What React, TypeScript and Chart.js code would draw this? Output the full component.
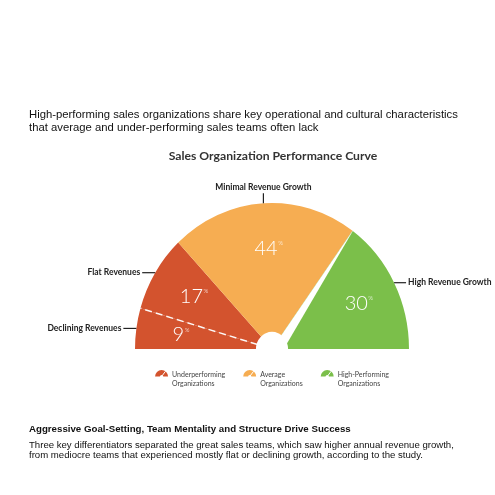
import { useEffect, useRef } from "react";
import { Chart, ArcElement, DoughnutController } from "chart.js";

Chart.register(ArcElement, DoughnutController);

const categories = ["Declining Revenues", "Flat Revenues", "Minimal Revenue Growth", "High Revenue Growth"];
const shares = [9, 17, 44, 30];
const segmentColors = ["#D3532E", "#D3532E", "#F6AD52", "#7BBF4A"];
const legendLabels = [
  ["Underperforming", "Organizations"],
  ["Average", "Organizations"],
  ["High-Performing", "Organizations"],
];
const legendColors = ["#D3532E", "#F6AD52", "#7BBF4A"];
const dashedAfterIndex = 0;
const needleAfterIndex = 2;

const SY = 1.066;

const gaugePlugin = {
  id: "gauge",
  beforeDatasetsDraw(chart: any) {
    const arc = chart.getDatasetMeta(0).data[0];
    const ctx = chart.ctx;
    ctx.save();
    ctx.translate(arc.x, arc.y);
    ctx.scale(1, SY);
    ctx.translate(-arc.x, -arc.y);
  },
  afterDatasetsDraw(chart: any) {
    const ctx: CanvasRenderingContext2D = chart.ctx;
    const arcs = chart.getDatasetMeta(0).data;
    const cx = arcs[0].x;
    const cy = arcs[0].y;
    const R = arcs[0].outerRadius;
    const r0 = arcs[0].innerRadius;

    // dashed divider
    const a = arcs[dashedAfterIndex].endAngle;
    ctx.beginPath();
    ctx.setLineDash([7, 4]);
    ctx.strokeStyle = "rgba(255,255,255,0.95)";
    ctx.lineWidth = 1.4;
    ctx.moveTo(cx + r0 * Math.cos(a), cy + r0 * Math.sin(a));
    ctx.lineTo(cx + R * Math.cos(a), cy + R * Math.sin(a));
    ctx.stroke();
    ctx.setLineDash([]);

    // needle
    const t = arcs[needleAfterIndex].endAngle;
    ctx.beginPath();
    ctx.fillStyle = "#ffffff";
    ctx.moveTo(cx, cy);
    ctx.lineTo(cx + (R + 4) * Math.cos(t), cy + (R + 4) * Math.sin(t));
    ctx.lineTo(cx - 10 * Math.sin(t), cy + 10 * Math.cos(t));
    ctx.closePath();
    ctx.fill();
    ctx.beginPath();
    ctx.arc(cx, cy, r0 + 1, 0, Math.PI * 2);
    ctx.fill();
    ctx.restore();

    const P = (ang: number, rad: number) => [cx + rad * Math.cos(ang), cy + SY * rad * Math.sin(ang)];

    // percentage labels
    arcs.forEach((el: any, i: number) => {
      const mid = (el.startAngle + el.endAngle) / 2;
      const [px, py] = P(mid, R * 0.69);
      ctx.fillStyle = "#ffffff";
      ctx.font = "300 20px Lato";
      ctx.textAlign = "center";
      ctx.textBaseline = "middle";
      const txt = String(shares[i]);
      ctx.fillText(txt, px, py);
      const w = ctx.measureText(txt).width;
      ctx.font = "300 6px Lato";
      ctx.textAlign = "left";
      ctx.fillText("%", px + w / 2 + 0.5, py - 5);
    });

    // callouts
    ctx.strokeStyle = "#222";
    ctx.fillStyle = "#222";
    ctx.lineWidth = 1.2;
    ctx.font = "bold 8.5px Lato";
    arcs.forEach((el: any, i: number) => {
      const mid = (el.startAngle + el.endAngle) / 2;
      const [ex, ey] = P(mid, R);
      const c = Math.cos(mid);
      ctx.beginPath();
      if (Math.abs(c) < 0.3) {
        ctx.moveTo(ex, ey);
        ctx.lineTo(ex, ey - 10);
        ctx.stroke();
        ctx.textAlign = "center";
        ctx.textBaseline = "alphabetic";
        ctx.fillText(categories[i], ex, ey - 13);
      } else if (c < 0) {
        ctx.moveTo(ex, ey);
        ctx.lineTo(ex - 13, ey);
        ctx.stroke();
        ctx.textAlign = "right";
        ctx.textBaseline = "middle";
        ctx.fillText(categories[i], ex - 15, ey);
      } else {
        ctx.moveTo(ex, ey);
        ctx.lineTo(ex + 12, ey);
        ctx.stroke();
        ctx.textAlign = "left";
        ctx.textBaseline = "middle";
        ctx.fillText(categories[i], ex + 14, ey);
      }
    });
  },
  afterDraw(chart: any) {
    const ctx: CanvasRenderingContext2D = chart.ctx;
    const cx = chart.getDatasetMeta(0).data[0].x;
    const iconR = 6.5;
    const gapIcon = 4;
    const gapItem = 18;
    const lineY1 = 375;
    const lineY2 = 384;
    ctx.font = "7px Lato";
    const widths = legendLabels.map((l) => Math.max(...l.map((s) => ctx.measureText(s).width)));
    const itemW = widths.map((w) => iconR * 2 + gapIcon + w);
    const total = itemW.reduce((s, w) => s + w, 0) + gapItem * (itemW.length - 1);
    let x = cx - total / 2;
    legendLabels.forEach((lines, i) => {
      const icx = x + iconR;
      const icy = lineY1 + 1.5;
      ctx.beginPath();
      ctx.fillStyle = legendColors[i];
      ctx.moveTo(icx - iconR, icy);
      ctx.arc(icx, icy, iconR, Math.PI, 0);
      ctx.closePath();
      ctx.fill();
      ctx.beginPath();
      ctx.fillStyle = "#fff";
      ctx.arc(icx, icy, 1.6, 0, Math.PI * 2);
      ctx.fill();
      ctx.beginPath();
      ctx.strokeStyle = "#fff";
      ctx.lineWidth = 1;
      ctx.moveTo(icx, icy);
      ctx.lineTo(icx + iconR * 0.6, icy - iconR * 0.8);
      ctx.stroke();
      ctx.fillStyle = "#444";
      ctx.font = "7px Lato";
      ctx.textAlign = "left";
      ctx.textBaseline = "middle";
      ctx.fillText(lines[0], x + iconR * 2 + gapIcon, lineY1);
      ctx.fillText(lines[1], x + iconR * 2 + gapIcon, lineY2);
      x += itemW[i] + gapItem;
    });
  },
};

export default function App() {
  const ref = useRef<HTMLCanvasElement | null>(null);
  useEffect(() => {
    if (!ref.current) return;
    const chart = new Chart(ref.current, {
      type: "doughnut",
      data: {
        labels: categories,
        datasets: [
          {
            data: shares,
            backgroundColor: segmentColors,
            borderWidth: 0,
            offset: 0,
            hoverOffset: 0,
          },
        ],
      },
      options: {
        animation: false,
        responsive: true,
        maintainAspectRatio: false,
        rotation: -90,
        circumference: 180,
        cutout: "11%",
        layout: { padding: { left: 135, right: 86, top: 212, bottom: 146 } },
        plugins: { legend: { display: false }, tooltip: { enabled: false } },
        events: [],
      } as any,
      plugins: [gaugePlugin],
    });
    return () => chart.destroy();
  }, []);

  const base: any = { position: "absolute", whiteSpace: "nowrap", margin: 0 };
  return (
    <div style={{ position: "absolute", left: 0, top: 0, width: 495, height: 495, background: "#fff" }}>
      <div style={{ position: "absolute", left: 0, top: 0, width: 495, height: 495 }}>
        <canvas ref={ref} />
      </div>
      <div style={{ ...base, left: 29, top: 108, fontFamily: "'Liberation Sans', Arial, sans-serif", fontSize: 11.3, lineHeight: "12.5px", color: "#111" }}>
        High-performing sales organizations share key operational and cultural characteristics
        <br />
        that average and under-performing sales teams often lack
      </div>
      <div style={{ ...base, left: 273, top: 148, transform: "translateX(-50%)", fontFamily: "Lato, sans-serif", fontWeight: 700, fontSize: 12.2, lineHeight: "16px", color: "#333" }}>
        Sales Organization Performance Curve
      </div>
      <div style={{ ...base, left: 29, top: 422.5, fontFamily: "'Liberation Sans', Arial, sans-serif", fontWeight: 700, fontSize: 9.7, lineHeight: "11px", color: "#111" }}>
        Aggressive Goal-Setting, Team Mentality and Structure Drive Success
      </div>
      <div style={{ ...base, left: 29, top: 440, fontFamily: "'Liberation Sans', Arial, sans-serif", fontSize: 9.6, lineHeight: "9.5px", color: "#111" }}>
        Three key differentiators separated the great sales teams, which saw higher annual revenue growth,
        <br />
        from mediocre teams that experienced mostly flat or declining growth, according to the study.
      </div>
    </div>
  );
}
